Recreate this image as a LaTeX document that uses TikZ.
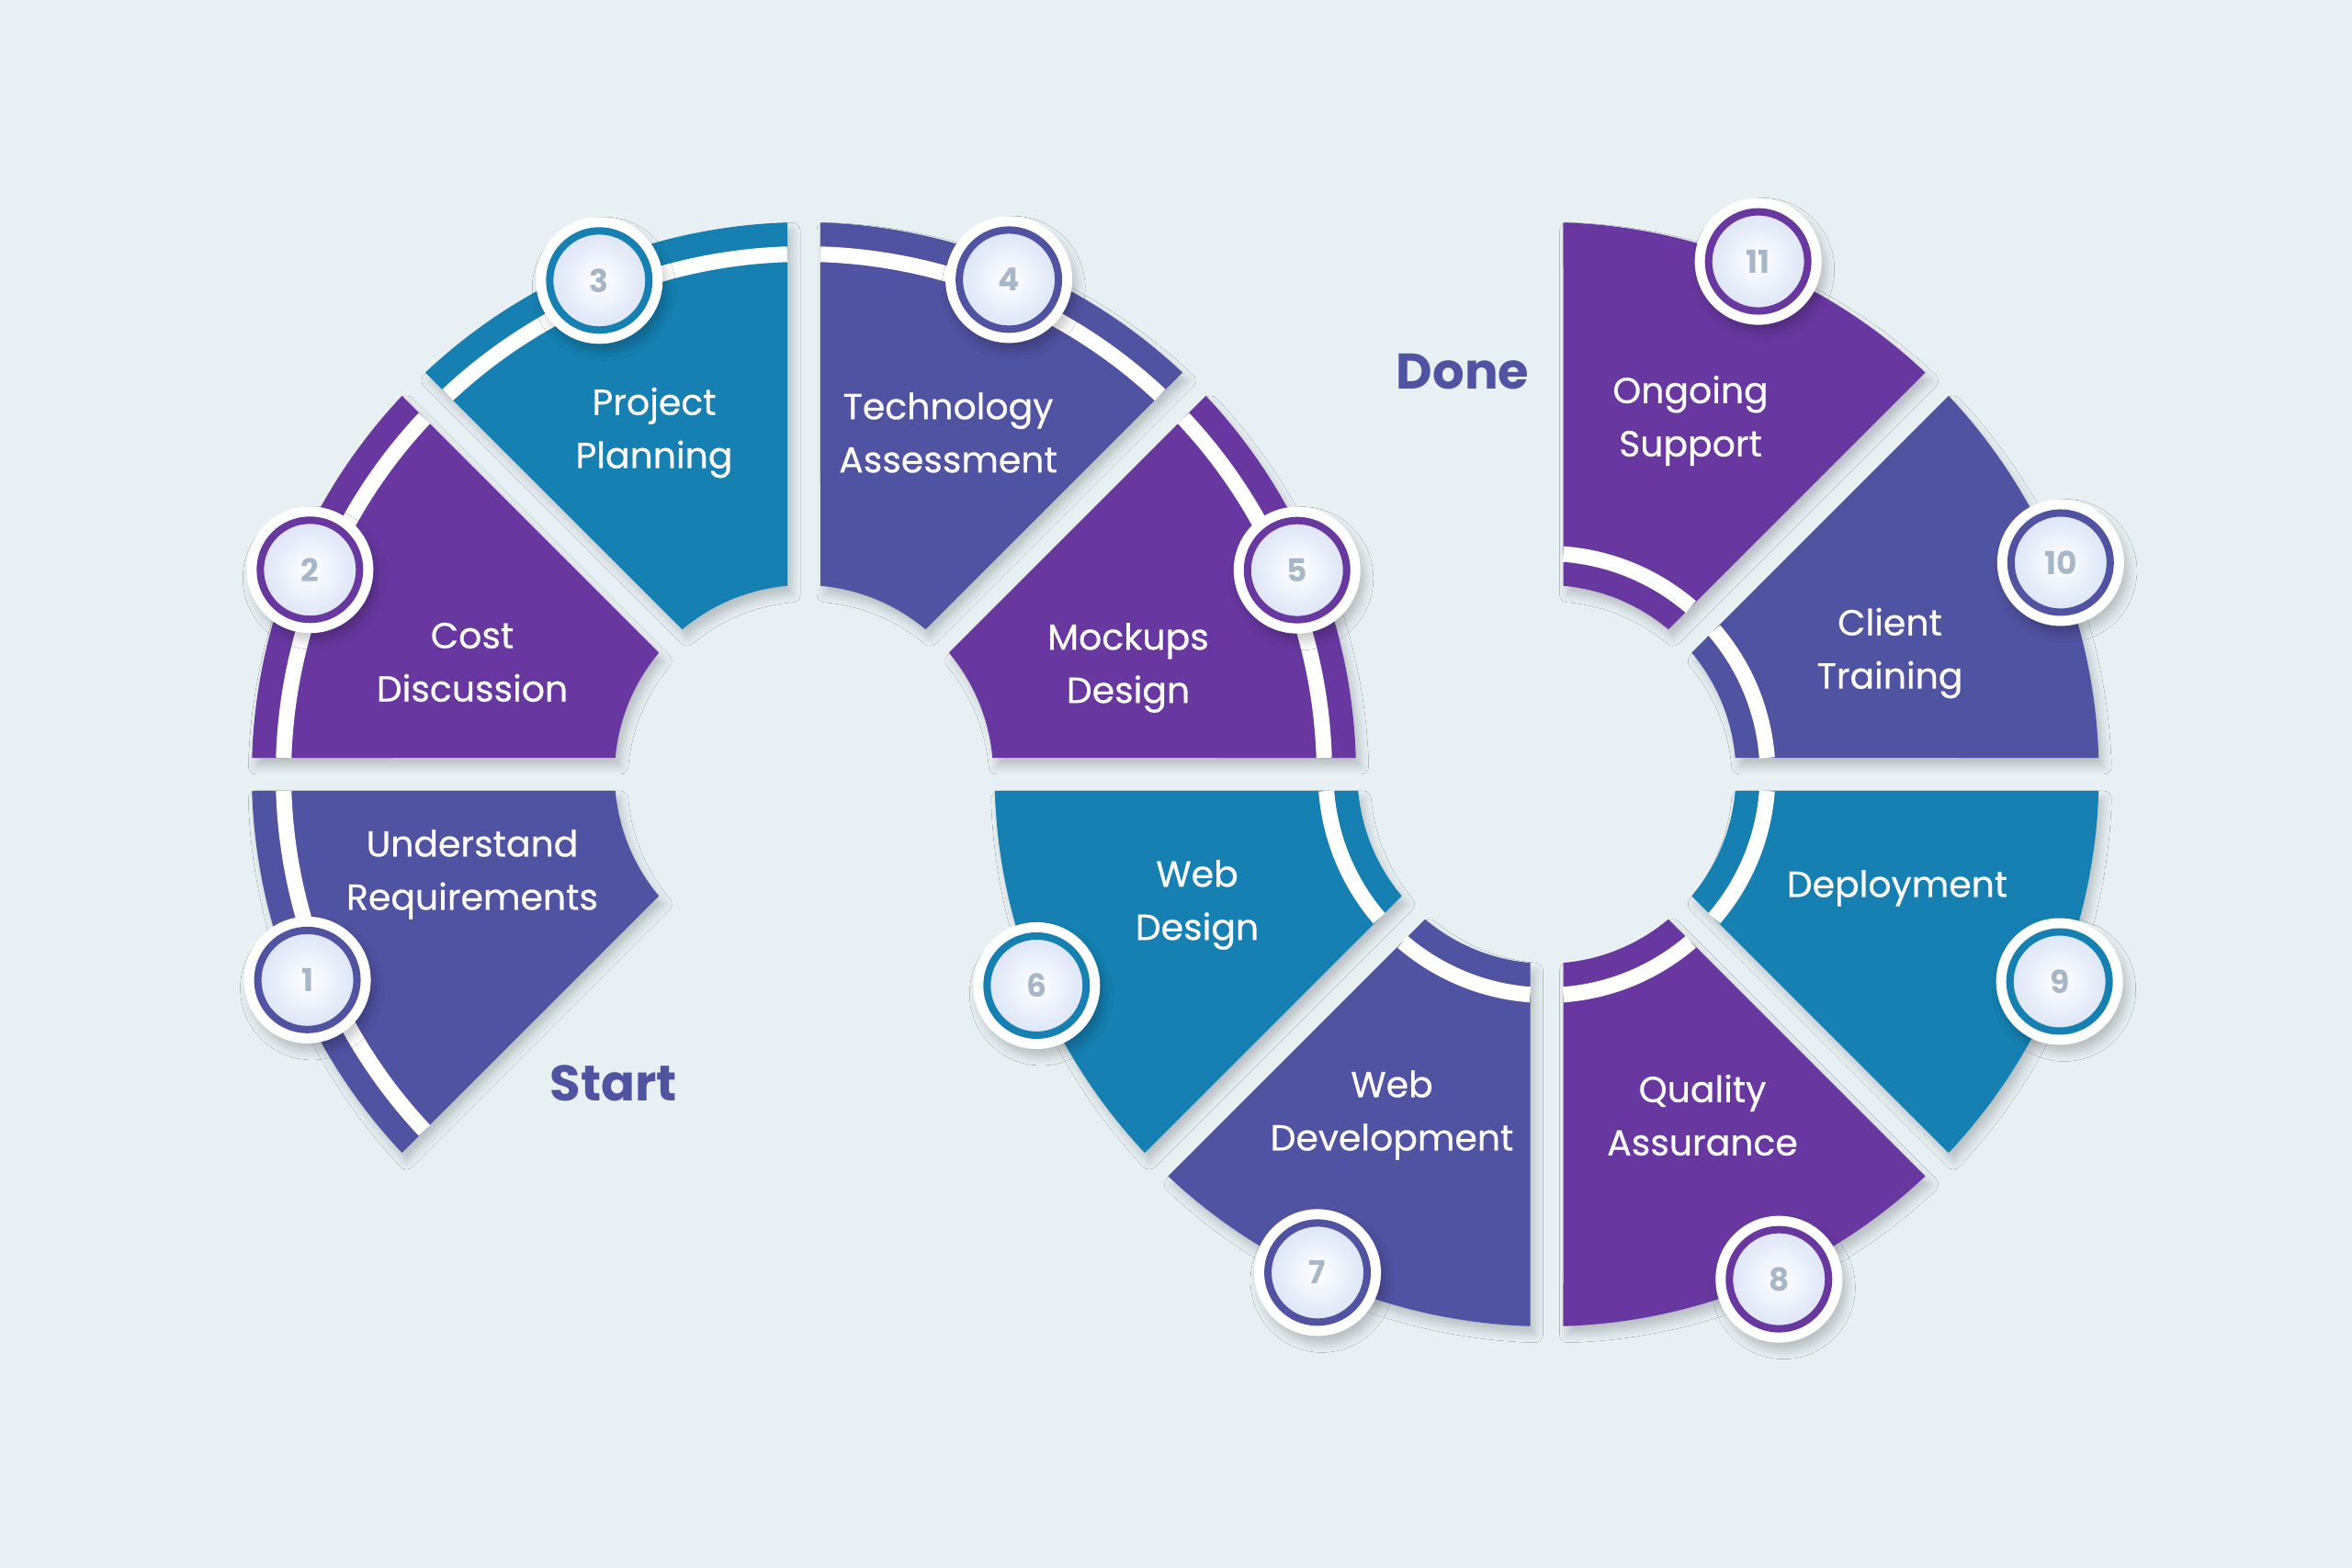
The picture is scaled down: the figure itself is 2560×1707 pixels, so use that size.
\documentclass[tikz,border=0pt]{standalone}
\usepackage{fontspec}
\setmainfont{Poppins}
\newfontfamily\labelfont{Poppins}[FakeBold=0.5]
\usetikzlibrary{shadows.blur}

\definecolor{backcol}{HTML}{E8F0F3}
\definecolor{segteal}{HTML}{1580B1}
\definecolor{segplum}{HTML}{6838A0}
\definecolor{segindigo}{HTML}{5052A2}
\definecolor{numgray}{HTML}{A6B8C8}
\definecolor{numglow}{HTML}{DCE4F6}

\tikzset{
	soft/.style={blur shadow={shadow xshift=0.5mm, shadow yshift=-0.9mm, shadow blur radius=0.9mm, shadow opacity=20}},
	petal/.style={fill=#1, soft},
	band/.style={draw=white, line width=1.7mm},
	seglabel/.style={text=white, align=center, font=\labelfont\fontsize{11.2}{16.5}\selectfont},
	endlabel/.style={text=segindigo, font=\fontsize{15.5}{18}\selectfont\bfseries},
	num/.style={circle, minimum size=10.8mm, inner sep=0pt, draw=#1, line width=0.8mm,
		inner color=white, outer color=numglow, text=numgray, font=\fontsize{9.8}{10}\selectfont\bfseries},
	disc/.style={fill=white, soft}
}

% ring geometry: outer and inner radius, half of the gap between petals
\def\rout{601}
\def\rin{206}
\def\gap{18}

% #1 centre, #2 #3 angles, #4 colour, #5 radius of the white band
\newcommand\petal[5]{%
	\begin{scope}[shift={(#1)}]
		\path[petal=#4] ({#2+asin(\gap/\rout)}:\rout)
			arc[start angle={#2+asin(\gap/\rout)}, end angle={#3-asin(\gap/\rout)}, radius=\rout]
			-- ({#3-asin(\gap/\rin)}:\rin)
			arc[start angle={#3-asin(\gap/\rin)}, end angle={#2+asin(\gap/\rin)}, radius=\rin]
			-- cycle;
		\draw[band] ({#2+asin(\gap/#5)}:#5)
			arc[start angle={#2+asin(\gap/#5)}, end angle={#3-asin(\gap/#5)}, radius=#5];
	\end{scope}}

\begin{document}
\begin{tikzpicture}[x=0.1mm, y=0.1mm]
	\fill[backcol] (0,0) rectangle (2560,1707);
	\useasboundingbox (0,0) rectangle (2560,1707);
	\coordinate (L) at (875,864);
	\coordinate (R) at (1683.5,864);

	% left loop, band near the rim
	\petal{L}{180}{225}{segindigo}{566.5}
	\petal{L}{135}{180}{segplum}{566.5}
	\petal{L}{90}{135}{segteal}{566.5}
	\petal{L}{45}{90}{segindigo}{566.5}
	\petal{L}{0}{45}{segplum}{566.5}

	% right loop, band near the hole
	\petal{R}{180}{225}{segteal}{240.5}
	\petal{R}{225}{270}{segindigo}{240.5}
	\petal{R}{270}{315}{segplum}{240.5}
	\petal{R}{315}{360}{segteal}{240.5}
	\petal{R}{0}{45}{segindigo}{240.5}
	\petal{R}{45}{90}{segplum}{240.5}

	\node[seglabel] (s1) at (514,755) {Understand\\Requirements};
	\node[seglabel] (s2) at (514,986) {Cost\\Discussion};
	\node[seglabel] (s3) at (712,1236) {Project\\Planning};
	\node[seglabel] (s4) at (1032,1236) {Technology\\Assessment};
	\node[seglabel] (s5) at (1228,980) {Mockups\\Design};
	\node[seglabel] (s6) at (1303,722) {Web\\Design};
	\node[seglabel] (s7) at (1515,493) {Web\\Development};
	\node[seglabel] (s8) at (1853,493) {Quality\\Assurance};
	\node[seglabel] (s9) at (2065,740) {Deployment};
	\node[seglabel] (s10) at (2057,996) {Client\\Training};
	\node[seglabel] (s11) at (1840,1249) {Ongoing\\Support};

	\node[endlabel] (start) at (668,528) {Start};
	\node[endlabel] (done) at (1592,1302) {Done};

	% numbered badges on the rims
	\foreach \k/\ctr/\ang/\rad/\col in {1/L/202.5/585/segindigo, 2/L/157.5/582/segplum,
		3/L/112.5/582/segteal, 4/L/67.5/583/segindigo, 5/L/22.5/581/segplum,
		6/R/202.5/601/segteal, 7/R/245.3/597/segindigo, 8/R/294.7/605/segplum,
		9/R/338/602/segteal, 10/R/22.4/605/segindigo, 11/R/67.6/604/segplum}{
		\fill[disc] ([shift={(\ang:\rad)}]\ctr) circle (69);
		\node[num=\col] (n\k) at ([shift={(\ang:\rad)}]\ctr) {\k};
	}
\end{tikzpicture}
\end{document}
